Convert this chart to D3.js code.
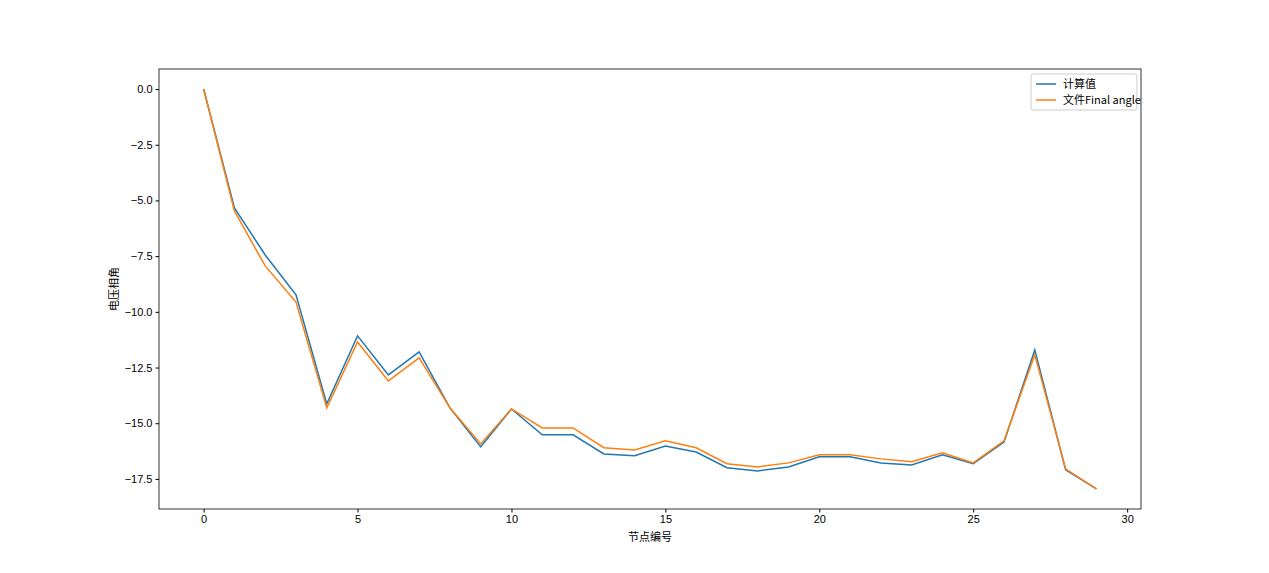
<!DOCTYPE html>
<html><head><meta charset="utf-8">
<script src="https://cdn.jsdelivr.net/npm/d3@7"></script>
<style>body{margin:0;background:#fff;font-family:"Noto Sans CJK SC","DejaVu Sans",sans-serif;}</style>
</head><body><svg id="c" width="1269" height="573"></svg>
<script>
const nodes = d3.range(30);
const calcValues = [0,-5.34,-7.45,-9.24,-14.13,-11.08,-12.83,-11.8,-14.31,-16.06,-14.36,-15.52,-15.52,-16.38,-16.46,-16.02,-16.29,-17.0,-17.14,-16.96,-16.51,-16.51,-16.78,-16.87,-16.42,-16.82,-15.84,-11.71,-17.09,-17.95];
const fileValues = [0,-5.47,-7.94,-9.56,-14.31,-11.35,-13.1,-12.07,-14.31,-15.93,-14.36,-15.21,-15.21,-16.1,-16.2,-15.79,-16.1,-16.82,-16.96,-16.78,-16.42,-16.42,-16.6,-16.73,-16.33,-16.78,-15.79,-11.93,-17.05,-17.95];
const xTicks = [0,5,10,15,20,25,30];
const yTicks = [0,-2.5,-5,-7.5,-10,-12.5,-15,-17.5];
const seriesNames = ["计算值","文件Final angle"];
const colors = ["#1f77b4","#ff7f0e"];

const mLeft = 159, mRight = 1141, mTop = 69, mBottom = 509;
const svg = d3.select("#c");
const x = d3.scaleLinear().domain([-1.45, 30.45]).range([mLeft, mRight]);
const y = d3.scaleLinear().domain([-18.85, 0.9]).range([mBottom, mTop]);

const fs = "11px";
svg.append("g").attr("transform", `translate(0,${mBottom})`)
  .call(d3.axisBottom(x).tickValues(xTicks).tickSize(3.5).tickPadding(3).tickFormat(d3.format("d")))
  .call(g => g.select(".domain").remove())
  .selectAll("text").style("font-size", fs).attr("fill", "#000");
svg.append("g").attr("transform", `translate(${mLeft},0)`)
  .call(d3.axisLeft(y).tickValues(yTicks).tickSize(3.5).tickPadding(3).tickFormat(d3.format(".1f")))
  .call(g => g.select(".domain").remove())
  .selectAll("text").style("font-size", fs).attr("fill", "#000").text(d => d3.format(".1f")(d).replace("-", "−"));

const line = d3.line().x((d, i) => x(nodes[i])).y(d => y(d));
[calcValues, fileValues].forEach((vals, k) => {
  svg.append("path").datum(vals).attr("d", line).attr("fill", "none")
    .attr("stroke", colors[k]).attr("stroke-width", 1.5);
});

svg.append("rect").attr("x", mLeft).attr("y", mTop).attr("width", mRight - mLeft).attr("height", mBottom - mTop)
  .attr("fill", "none").attr("stroke", "#000").attr("stroke-width", 0.8);

svg.append("text").attr("x", (mLeft + mRight) / 2).attr("y", 541).attr("text-anchor", "middle")
  .style("font-size", fs).text("节点编号");
svg.append("text").attr("transform", `translate(118,${(mTop + mBottom) / 2}) rotate(-90)`)
  .attr("text-anchor", "middle").style("font-size", fs).text("电压相角");

const lg = svg.append("g").attr("transform", "translate(1031,74)");
lg.append("rect").attr("width", 106).attr("height", 36).attr("rx", 2)
  .attr("fill", "#fff").attr("stroke", "#ccc");
seriesNames.forEach((n, i) => {
  const yy = 10 + i * 16;
  lg.append("line").attr("x1", 5).attr("x2", 25).attr("y1", yy).attr("y2", yy)
    .attr("stroke", colors[i]).attr("stroke-width", 1.5);
  lg.append("text").attr("x", 32).attr("y", yy + 4).style("font-size", fs).text(n);
});
</script></body></html>
